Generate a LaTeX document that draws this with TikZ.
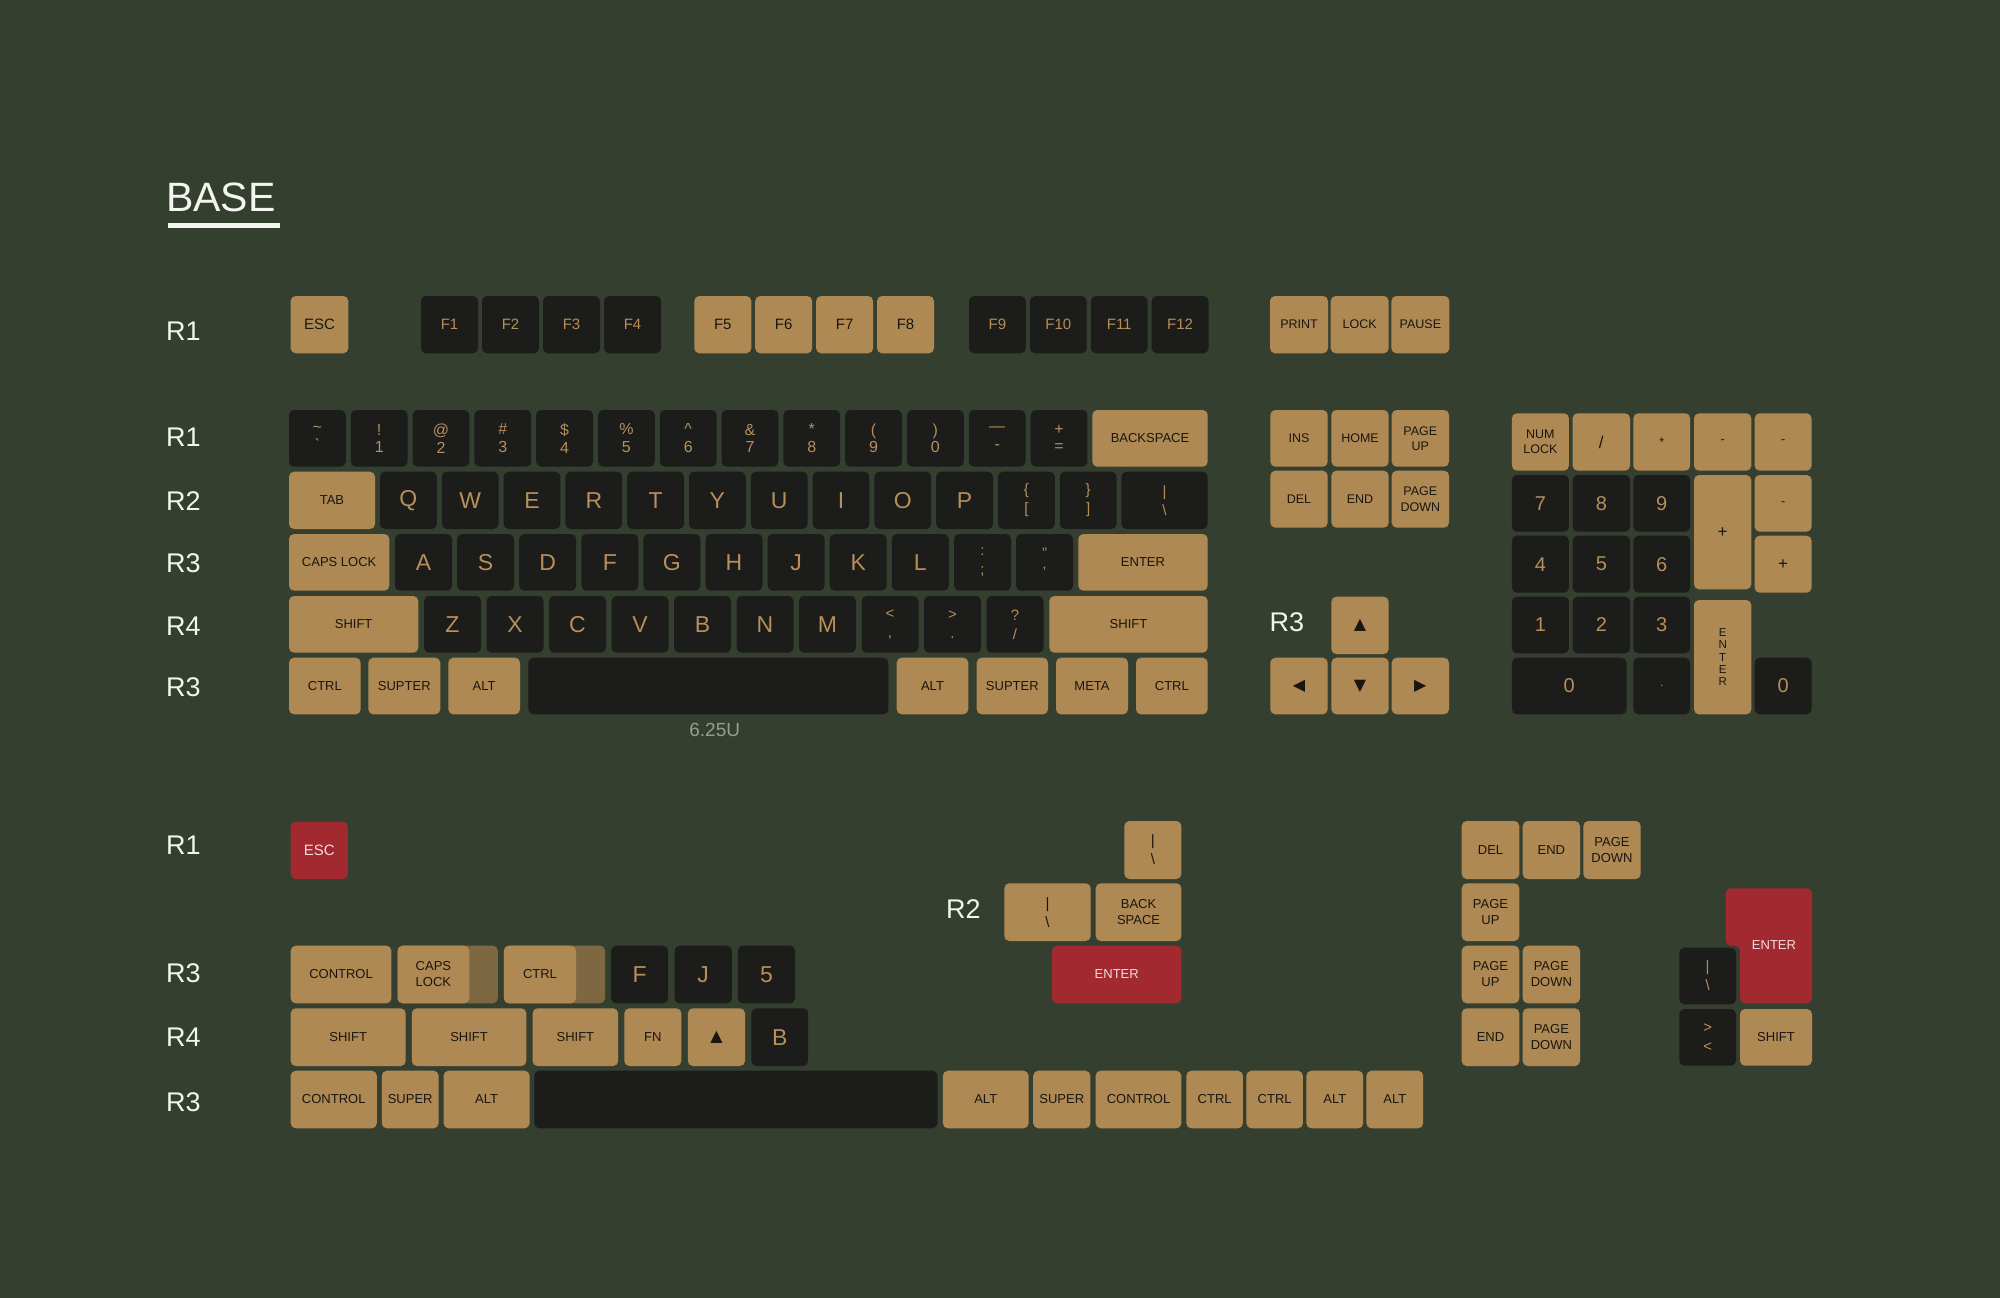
\documentclass[tikz,border=0pt]{standalone}
\usepackage{fontspec}
\setmainfont{Liberation Sans}
\newfontfamily\symf{DejaVu Sans}
\definecolor{bgc}{HTML}{353F30}
\definecolor{tanc}{HTML}{AF8954}
\definecolor{tanshade}{HTML}{7D6842}
\definecolor{darkc}{HTML}{1C1C1B}
\definecolor{tantxt}{HTML}{B68F5B}
\definecolor{inkc}{HTML}{1A160F}
\definecolor{redc}{HTML}{A1292F}
\definecolor{redtxt}{HTML}{F2DCDC}
\definecolor{grayt}{HTML}{9C9C8E}
\definecolor{whitet}{HTML}{F4F4F0}
\tikzset{
  keybase/.style={rectangle, rounded corners=5pt, inner sep=0pt, outer sep=0pt, align=center},
  tk/.style={fill=tanc, text=inkc},
  dk/.style={fill=darkc, text=tantxt},
  rk/.style={fill=redc, text=redtxt},
  ffn/.style={font=\fontsize{15}{18}\selectfont},
  fnav/.style={font=\fontsize{12.5}{15.3}\selectfont},
  fmod/.style={font=\fontsize{13}{16}\selectfont},
  fsym/.style={font=\fontsize{16}{17.7}\selectfont},
  fbr/.style={font=\fontsize{15}{19}\selectfont},
  flet/.style={font=\fontsize{23}{26}\selectfont},
  fnum/.style={font=\fontsize{20}{22}\selectfont},
  fop/.style={font=\fontsize{17}{20}\selectfont},
  fvert/.style={font=\fontsize{11.5}{12.2}\selectfont},
  ftri/.style={font=\symf\fontsize{16}{20}\selectfont},
  rowlbl/.style={font=\fontsize{27}{30}\selectfont, text=whitet, anchor=base west, inner sep=0pt}
}
\newcommand\kcap[7]{\node[keybase,#1,minimum width={(#4)-(#3)},minimum height={(#6)-(#5)}] (#2) at ({((#3)+(#4))/2},{((#5)+(#6))/2}) {#7};}
\begin{document}
\begin{tikzpicture}[x=1pt,y=-1pt]
\fill[bgc] (0,0) rectangle (2000,1298);
\useasboundingbox (0,0) rectangle (2000,1298);
% title
\node[anchor=base west, inner sep=0pt, text=whitet, font=\fontsize{41}{44}\selectfont] (title) at (166,211.7) {BASE};
\fill[whitet] (168,222.7) rectangle (280,227.7);
% row labels
\node[rowlbl] (l1) at (166,340) {R1};
\node[rowlbl] (l2) at (166,446.7) {R1};
\node[rowlbl] (l3) at (166,510) {R2};
\node[rowlbl] (l4) at (166,572.7) {R3};
\node[rowlbl] (l5) at (166,635) {R4};
\node[rowlbl] (l6) at (166,696.7) {R3};
\node[rowlbl] (l7) at (1269.5,631.7) {R3};
\node[rowlbl] (l8) at (166,854.3) {R1};
\node[rowlbl] (l9) at (946,918.3) {R2};
\node[rowlbl] (l10) at (166,982.7) {R3};
\node[rowlbl] (l11) at (166,1046.7) {R4};
\node[rowlbl] (l12) at (166,1111) {R3};
% top function row
\kcap{tk,ffn}{esc}{290.7}{348.3}{296}{353.3}{ESC}
\foreach \t [count=\i from 0] in {F1,F2,F3,F4} {\kcap{dk,ffn}{f\t}{421+61*\i}{478+61*\i}{296}{353.3}{\t}}
\foreach \t [count=\i from 0] in {F5,F6,F7,F8} {\kcap{tk,ffn}{f\t}{694.3+60.9*\i}{751.3+60.9*\i}{296}{353.3}{\t}}
\foreach \t [count=\i from 0] in {F9,F10,F11,F12} {\kcap{dk,ffn}{f\t}{969+60.9*\i}{1025.8+60.9*\i}{296}{353.3}{\t}}
\foreach \t [count=\i from 0] in {PRINT,LOCK,PAUSE} {\kcap{tk,fnav}{p\i}{1270+60.7*\i}{1328+60.7*\i}{296}{353.3}{\t}}
% number row
\foreach \i/\a/\b in {0/\textasciitilde/\textasciigrave, 1/!/1, 2/@/2, 3/\#/3, 4/\$/4, 5/\%/5, 6/\textasciicircum/6, 7/\&/7, 8/*/8, 9/(/9, 10/)/0, 11/—/-, 12/+/=}
  {\kcap{dk,fsym}{n\i}{289+61.8*\i}{345.8+61.8*\i}{410}{466.7}{\a\\\b}}
\kcap{tk,fmod}{bksp}{1092.3}{1207.7}{410}{466.7}{BACKSPACE}
% Q row
\kcap{tk,fmod}{tab}{289}{375}{471.7}{529}{TAB}
\foreach \t [count=\i from 0] in {Q,W,E,R,T,Y,U,I,O,P} {\kcap{dk,flet}{q\i}{380+61.8*\i}{436.8+61.8*\i}{471.7}{529}{\t}}
\kcap{dk,fbr}{lbr}{998}{1054.8}{471.7}{529}{\{\\{[}}
\kcap{dk,fbr}{rbr}{1059.8}{1116.6}{471.7}{529}{\}\\{]}}
\kcap{dk,fbr}{bsl}{1121.3}{1207.7}{471.7}{529}{|\\\textbackslash}
% A row
\kcap{tk,fmod}{caps}{289}{389.3}{534}{590.7}{CAPS LOCK}
\foreach \t [count=\i from 0] in {A,S,D,F,G,H,J,K,L} {\kcap{dk,flet}{a\i}{395+62.1*\i}{452+62.1*\i}{534}{590.7}{\t}}
\kcap{dk,fbr}{semi}{954}{1011}{534}{590.7}{:\\;}
\kcap{dk,fbr}{quot}{1016}{1073}{534}{590.7}{"\\'}
\kcap{tk,fmod}{enter}{1078.3}{1207.7}{534}{590.7}{ENTER}
% Z row
\kcap{tk,fmod}{lshift}{289}{418.3}{596}{652.7}{SHIFT}
\foreach \t [count=\i from 0] in {Z,X,C,V,B,N,M} {\kcap{dk,flet}{z\i}{424+62.5*\i}{481+62.5*\i}{596}{652.7}{\t}}
\kcap{dk,fbr}{comma}{861.5}{918.5}{596}{652.7}{<\\,}
\kcap{dk,fbr}{period}{924}{981}{596}{652.7}{>\\.}
\kcap{dk,fbr}{slash}{986.5}{1043.5}{596}{652.7}{?\\/}
\kcap{tk,fmod}{rshift}{1049.3}{1207.7}{596}{652.7}{SHIFT}
% bottom row
\kcap{tk,fmod}{lctrl}{289}{360.7}{657.7}{714.3}{CTRL}
\kcap{tk,fmod}{lsup}{368.3}{440.3}{657.7}{714.3}{SUPTER}
\kcap{tk,fmod}{lalt}{448.3}{520}{657.7}{714.3}{ALT}
\kcap{dk,fmod}{space}{528.3}{888.3}{657.7}{714.3}{}
\kcap{tk,fmod}{ralt}{896.7}{968.3}{657.7}{714.3}{ALT}
\kcap{tk,fmod}{rsup}{976.7}{1048}{657.7}{714.3}{SUPTER}
\kcap{tk,fmod}{meta}{1056}{1128}{657.7}{714.3}{META}
\kcap{tk,fmod}{rctrl}{1136}{1207.7}{657.7}{714.3}{CTRL}
\node[font=\fontsize{19}{22}\selectfont, text=grayt, anchor=base, inner sep=0pt] (size) at (714.7,736.7) {6.25U};
% nav cluster
\kcap{tk,fnav}{ins}{1270.3}{1327.7}{410}{466.7}{INS}
\kcap{tk,fnav}{home}{1331.4}{1388.7}{410}{466.7}{HOME}
\kcap{tk,fnav}{pgup}{1391.7}{1449}{410}{466.7}{PAGE\\UP}
\kcap{tk,fnav}{del}{1270.3}{1327.7}{470.7}{527.7}{DEL}
\kcap{tk,fnav}{end}{1331.4}{1388.7}{470.7}{527.7}{END}
\kcap{tk,fnav}{pgdn}{1391.7}{1449}{470.7}{527.7}{PAGE\\DOWN}
\kcap{tk,ftri}{up}{1331.4}{1388.7}{596.7}{654}{▲}
\kcap{tk,ftri}{left}{1270.3}{1327.7}{657.7}{714.3}{◀}
\kcap{tk,ftri}{down}{1331.4}{1388.7}{657.7}{714.3}{▼}
\kcap{tk,ftri}{right}{1391.7}{1449}{657.7}{714.3}{▶}
% numpad
\kcap{tk,fnav}{nlock}{1511.9}{1568.9}{413.3}{470.7}{NUM\\LOCK}
\kcap{tk,fop}{ndiv}{1572.6}{1630}{413.3}{470.7}{/}
\kcap{tk,fnav}{nmul}{1633.3}{1690.2}{413.3}{470.7}{*}
\kcap{tk,fnav}{nmin}{1694}{1751.3}{413.3}{470.7}{-}
\kcap{tk,fnav}{nminb}{1754.6}{1811.6}{413.3}{470.7}{-}
\kcap{dk,fnum}{n7}{1511.9}{1568.9}{475}{531.7}{7}
\kcap{dk,fnum}{n8}{1572.6}{1630}{475}{531.7}{8}
\kcap{dk,fnum}{n9}{1633.3}{1690.2}{475}{531.7}{9}
\kcap{tk,fop}{nplus}{1694}{1751.3}{475}{589.3}{+}
\kcap{tk,fnav}{nminc}{1754.6}{1811.6}{475}{531.7}{-}
\kcap{dk,fnum}{n4}{1511.9}{1568.9}{535.7}{592.7}{4}
\kcap{dk,fnum}{n5}{1572.6}{1630}{535.7}{592.7}{5}
\kcap{dk,fnum}{n6}{1633.3}{1690.2}{535.7}{592.7}{6}
\kcap{tk,fop}{nplusb}{1754.6}{1811.6}{535.7}{592.7}{+}
\kcap{dk,fnum}{n1}{1511.9}{1568.9}{596.7}{653.3}{1}
\kcap{dk,fnum}{n2}{1572.6}{1630}{596.7}{653.3}{2}
\kcap{dk,fnum}{n3}{1633.3}{1690.2}{596.7}{653.3}{3}
\kcap{tk,fvert}{nenter}{1694}{1751.3}{600}{714.3}{E\\N\\T\\E\\R}
\kcap{dk,fnum}{n0}{1511.9}{1626.6}{657.7}{714.3}{0}
\kcap{dk,fnav}{ndot}{1633.3}{1690.2}{657.7}{714.3}{.}
\kcap{dk,fnum}{n0b}{1754.6}{1811.6}{657.7}{714.3}{0}
% lower section
\kcap{rk,ffn}{esc2}{290.7}{347.9}{821.7}{879}{ESC}
\kcap{tk,fmod}{ctl1}{290.7}{391.4}{945.7}{1003.3}{CONTROL}
\fill[tanshade, rounded corners=5pt] (397.5,945.7) rectangle (497.9,1003.3);
\kcap{tk,fmod}{caps2}{397.5}{469.3}{945.7}{1003.3}{CAPS\\LOCK}
\fill[tanshade, rounded corners=5pt] (503.9,945.7) rectangle (605,1003.3);
\kcap{tk,fmod}{ctl2}{503.9}{576.1}{945.7}{1003.3}{CTRL}
\kcap{dk,flet}{kf}{611.1}{668.2}{945.7}{1003.3}{F}
\kcap{dk,flet}{kj}{674.6}{731.8}{945.7}{1003.3}{J}
\kcap{dk,flet}{k5}{737.9}{795}{945.7}{1003.3}{5}
\kcap{tk,fmod}{sh1}{290.7}{405.7}{1008.3}{1066}{SHIFT}
\kcap{tk,fmod}{sh2}{411.8}{526.4}{1008.3}{1066}{SHIFT}
\kcap{tk,fmod}{sh3}{532.5}{618.2}{1008.3}{1066}{SHIFT}
\kcap{tk,fmod}{fnk}{624.3}{681.4}{1008.3}{1066}{FN}
\kcap{tk,ftri}{up2}{687.9}{745}{1008.3}{1066}{▲}
\kcap{dk,flet}{kb}{751.4}{808.2}{1008.3}{1066}{B}
\kcap{tk,fmod}{bc1}{290.7}{376.8}{1070.7}{1128.3}{CONTROL}
\kcap{tk,fmod}{bs1}{381.8}{438.6}{1070.7}{1128.3}{SUPER}
\kcap{tk,fmod}{ba1}{443.6}{529.6}{1070.7}{1128.3}{ALT}
\kcap{dk,fmod}{space2}{534.3}{937.5}{1070.7}{1128.3}{}
\kcap{tk,fmod}{ba2}{942.9}{1028.6}{1070.7}{1128.3}{ALT}
\kcap{tk,fmod}{bs2}{1033.2}{1090.4}{1070.7}{1128.3}{SUPER}
\kcap{tk,fmod}{bc2}{1095.7}{1181.4}{1070.7}{1128.3}{CONTROL}
\kcap{tk,fmod}{bt1}{1186.4}{1242.9}{1070.7}{1128.3}{CTRL}
\kcap{tk,fmod}{bt2}{1246.4}{1302.9}{1070.7}{1128.3}{CTRL}
\kcap{tk,fmod}{ba3}{1306.4}{1363.2}{1070.7}{1128.3}{ALT}
\kcap{tk,fmod}{ba4}{1366.4}{1423.2}{1070.7}{1128.3}{ALT}
% middle alternates
\kcap{tk,fbr}{bsl2}{1124.3}{1181.4}{821}{879}{|\\\textbackslash}
\kcap{tk,fbr}{bsl3}{1004.3}{1090.7}{883.3}{941}{|\\\textbackslash}
\kcap{tk,fmod}{bksp2}{1095.7}{1181.4}{883.3}{941}{BACK\\SPACE}
\kcap{rk,fmod}{enter2}{1052.1}{1181.4}{945.7}{1003.3}{ENTER}
% right alternates
\kcap{tk,fmod}{del2}{1461.7}{1519.3}{821}{879}{DEL}
\kcap{tk,fmod}{end2}{1522.7}{1580}{821}{879}{END}
\kcap{tk,fmod}{pgdn2}{1583.3}{1640.7}{821}{879}{PAGE\\DOWN}
\kcap{tk,fmod}{pgup2}{1461.7}{1519.3}{883.3}{941}{PAGE\\UP}
\kcap{tk,fmod}{pgup3}{1461.7}{1519.3}{945.7}{1003.3}{PAGE\\UP}
\kcap{tk,fmod}{pgdn3}{1522.7}{1580}{945.7}{1003.3}{PAGE\\DOWN}
\kcap{tk,fmod}{end3}{1461.7}{1519.3}{1008.3}{1066}{END}
\kcap{tk,fmod}{pgdn4}{1522.7}{1580}{1008.3}{1066}{PAGE\\DOWN}
\fill[redc, rounded corners=5pt] (1725.7,888.3) -- (1812,888.3) -- (1812,1003.3) -- (1740,1003.3) -- (1740,945.7) -- (1725.7,945.7) -- cycle;
\node[fmod, text=redtxt, inner sep=0pt] (isoenter) at (1774,945) {ENTER};
\kcap{dk,fbr}{bsl4}{1679.3}{1736}{947.7}{1004.3}{|\\\textbackslash}
\kcap{dk,fbr}{gtlt}{1679.3}{1736}{1009}{1065.7}{>\\<}
\kcap{tk,fmod}{sh4}{1740}{1812}{1009}{1065.7}{SHIFT}
\end{tikzpicture}
\end{document}
